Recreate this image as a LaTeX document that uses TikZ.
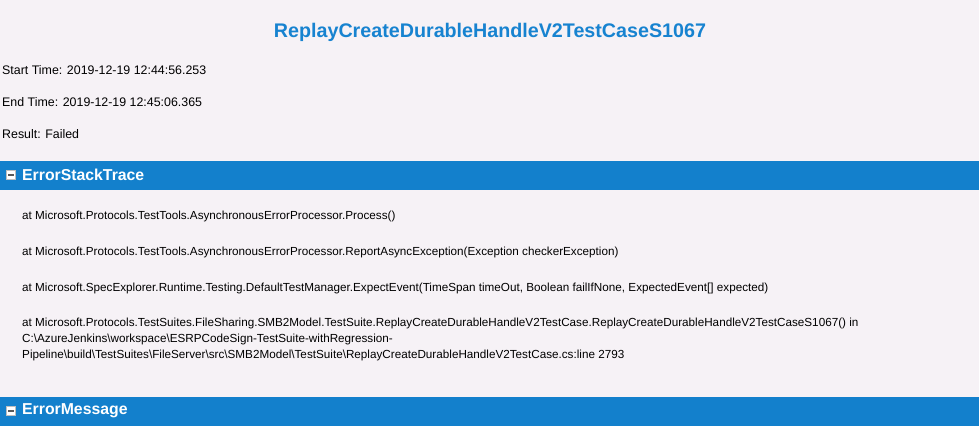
\documentclass[tikz,border=0pt]{standalone}
\usepackage{fontspec}
\setmainfont{Liberation Sans}
\definecolor{bg}{HTML}{F6F2F6}
\definecolor{hblue}{HTML}{1783D0}
\definecolor{bar}{HTML}{1380CC}
\begin{document}
\begin{tikzpicture}[x=1pt,y=-1pt,
  txt/.style={anchor=west,inner sep=0pt,font=\fontsize{11.7}{13}\selectfont},
  toptxt/.style={anchor=west,inner sep=0pt,font=\fontsize{12.4}{14}\selectfont},
  bartxt/.style={anchor=west,inner sep=0pt,text=white,font=\fontsize{15.8}{17}\selectfont\bfseries},
  barbox/.style={fill=bar,draw=none},
  icon/.style={draw=gray!50,fill=white,minimum size=9pt,inner sep=0pt,line width=0.8pt}]
\fill[bg] (0,0) rectangle (979,426);
\useasboundingbox (0,0) rectangle (979,426);
\node[inner sep=0pt,text=hblue,font=\fontsize{19.7}{22}\selectfont\bfseries] (title) at (490,32) {ReplayCreateDurableHandleV2TestCaseS1067};
\node[toptxt] (start) at (2,70) {Start Time: 2019-12-19 12:44:56.253};
\node[toptxt] (end) at (2,102) {End Time: 2019-12-19 12:45:06.365};
\node[toptxt] (res) at (2,134) {Result: Failed};
\fill[barbox] (0,161) rectangle (979,190);
\node[icon] (i1) at (11,175) {};
\draw[gray!70!black,line width=1.2pt] (i1.west) ++(2,0) -- ([xshift=-2pt]i1.east);
\node[bartxt] (b1) at (22,175) {ErrorStackTrace};
\node[txt] (s1) at (22,216) {at Microsoft.Protocols.TestTools.AsynchronousErrorProcessor.Process()};
\node[txt] (s2) at (22,252) {at Microsoft.Protocols.TestTools.AsynchronousErrorProcessor.ReportAsyncException(Exception checkerException)};
\node[txt] (s3) at (22,288) {at Microsoft.SpecExplorer.Runtime.Testing.DefaultTestManager.ExpectEvent(TimeSpan timeOut, Boolean failIfNone, ExpectedEvent[] expected)};
\node[txt] (s4) at (22,323) {at Microsoft.Protocols.TestSuites.FileSharing.SMB2Model.TestSuite.ReplayCreateDurableHandleV2TestCase.ReplayCreateDurableHandleV2TestCaseS1067() in};
\node[txt] (s5) at (22,339) {C:\textbackslash AzureJenkins\textbackslash workspace\textbackslash ESRPCodeSign-TestSuite-withRegression-};
\node[txt] (s6) at (22,355) {Pipeline\textbackslash build\textbackslash TestSuites\textbackslash FileServer\textbackslash src\textbackslash SMB2Model\textbackslash TestSuite\textbackslash ReplayCreateDurableHandleV2TestCase.cs:line 2793};
\fill[barbox] (0,397) rectangle (979,426);
\node[icon] (i2) at (11,411) {};
\draw[gray!70!black,line width=1.2pt] (i2.west) ++(2,0) -- ([xshift=-2pt]i2.east);
\node[bartxt] (b2) at (22,411) {ErrorMessage};
\end{tikzpicture}
\end{document}
